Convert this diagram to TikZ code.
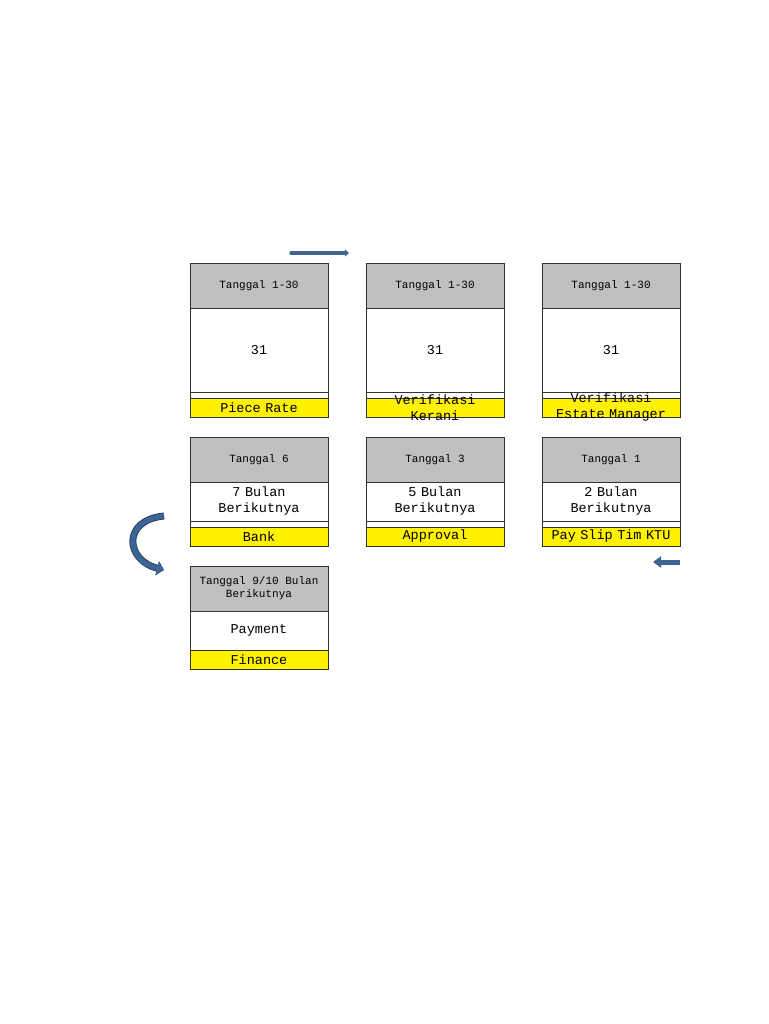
\documentclass[tikz,border=0pt]{standalone}
\usepackage{fontspec}
\setmainfont{Liberation Mono}
\usetikzlibrary{arrows.meta}
\definecolor{hdr}{HTML}{C0C0C0}
\definecolor{arr}{HTML}{3E6496}
\begin{document}
\begin{tikzpicture}[x=1pt,y=-1pt,
  bx/.style={draw=black!80,line width=0.8pt},
  hd/.style={font=\fontsize{11}{13}\selectfont,align=center},
  bd/.style={font=\fontsize{13.5}{16}\selectfont,align=center,text width=136pt},
]
\useasboundingbox (0,0) rectangle (768,1024);
\fill[white] (0,0) rectangle (768,1024);
% Generic box macro via foreach
\foreach \x/\h/\b/\f [count=\i] in {190/Tanggal 1-30/31/Piece Rate / BKM/Lapangan,
  366/Tanggal 1-30/31/Verifikasi\\Kerani/Mandor/As\\isten/Lapangan,
  542/Tanggal 1-30/31/Verifikasi\\Estate Manager/Kantor}{
  \fill[hdr] (\x,263) rectangle ++(138,45);
  \fill[yellow] (\x,398) rectangle ++(138,19);
  \draw[bx] (\x,263) rectangle ++(138,154);
  \draw[bx] (\x,308) -- ++(138,0) (\x,392) -- ++(138,0) (\x,398) -- ++(138,0);
  \node[hd] (h1\i) at (\x+69,285.5) {\h};
  \node[bd] (b1\i) at (\x+69,350) {\b};
  \node[bd] (f1\i) at (\x+69,407.5) {\f};
}
\foreach \x/\h/\b/\f [count=\i] in {190/Tanggal 6/7 Bulan\\Berikutnya/Bank/Cash/Finance,
  366/Tanggal 3/5 Bulan\\Berikutnya/Approval/Kantor,
  542/Tanggal 1/2 Bulan\\Berikutnya/Pay Slip Tim KTU/Kantor}{
  \fill[hdr] (\x,437) rectangle ++(138,45);
  \fill[yellow] (\x,527) rectangle ++(138,19);
  \draw[bx] (\x,437) rectangle ++(138,109);
  \draw[bx] (\x,482) -- ++(138,0) (\x,521) -- ++(138,0) (\x,527) -- ++(138,0);
  \node[hd] (h2\i) at (\x+69,459.5) {\h};
  \node[bd] (b2\i) at (\x+69,501.5) {\b};
  \node[bd] (f2\i) at (\x+69,536.5) {\f};
}
\fill[hdr] (190,566) rectangle ++(138,45);
\fill[yellow] (190,650) rectangle ++(138,19);
\draw[bx] (190,566) rectangle ++(138,103);
\draw[bx] (190,611) -- ++(138,0) (190,650) -- ++(138,0);
\node[hd] (h31) at (259,588.5) {Tanggal 9/10 Bulan\\Berikutnya};
\node[bd] (b31) at (259,630.5) {Payment};
\node[bd] (f31) at (259,659.5) {Finance};
% arrows
\coordinate (a1) at (291,253); \coordinate (a2) at (349,253);
\draw[arr,line width=3.5pt,line cap=round,-{Triangle[length=4pt,width=7pt]}] (a1) -- (a2);
\coordinate (c1) at (164,516); \coordinate (c2) at (164,570);
\draw[arr!70!black,line width=7pt,-{Triangle[length=7pt,width=14pt]}] (c1) .. controls (122,520) and (125,560) .. (c2);
\draw[arr,line width=5pt,-{Triangle[length=7pt,width=14pt]}] (c1) .. controls (122,520) and (125,560) .. (c2);
\coordinate (d1) at (680,562); \coordinate (d2) at (653,562);
\draw[arr,line width=5pt,-{Triangle[length=8pt,width=11pt]}] (d1) -- (d2);
\end{tikzpicture}
\end{document}
